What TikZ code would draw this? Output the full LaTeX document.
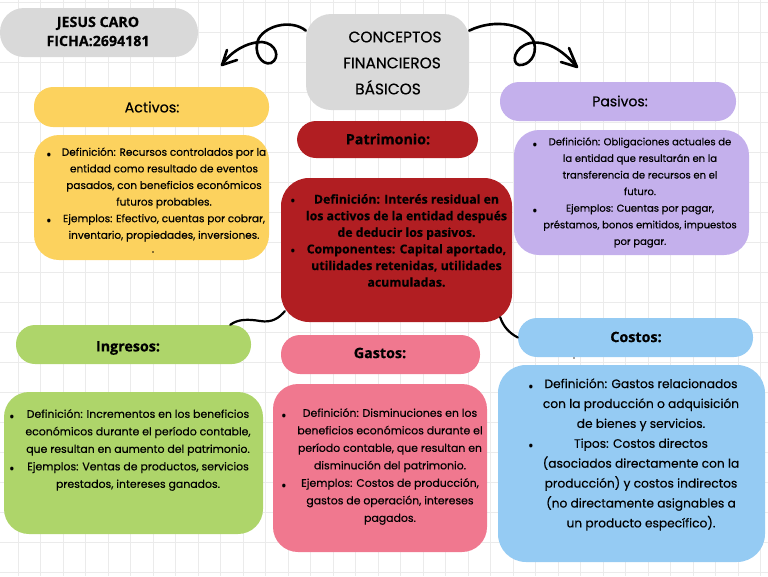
\documentclass[tikz,border=0pt]{standalone}
\usepackage{fontspec}
\setmainfont{Poppins}[FakeBold=0.4]
\newfontfamily\heavyface{Open Sans Bold}[FakeBold=0.5]
\newfontfamily\dotface{Noto Sans}
\usetikzlibrary{calc}
\definecolor{cgray}{HTML}{D9D9D9}
\definecolor{cyellow}{HTML}{FCD25E}
\definecolor{cpurple}{HTML}{C4B0EC}
\definecolor{cred}{HTML}{B11E22}
\definecolor{cgreen}{HTML}{AED56A}
\definecolor{cpink}{HTML}{F0788F}
\definecolor{cblue}{HTML}{95CBF3}
\tikzset{
	headstyle/.style={rectangle,rounded corners=19pt,inner sep=0pt},
	boxstyle/.style={rectangle,rounded corners=25pt,inner sep=0pt},
	bodystyle/.style={inner sep=0pt,align=center},
	boldstyle/.style={inner sep=0pt,align=center,font=\heavyface\fontsize{#1}{16.6}\selectfont},
	bulletstyle/.style={inner sep=0pt,yshift=-4pt,font=\dotface\fontsize{15}{15}\selectfont},
	gridstyle/.style={draw=black!8,line width=0.5pt},
	linkstyle/.style={draw=black,line width=2.6pt,line cap=round,line join=round}
}
\begin{document}
\begin{tikzpicture}[x=1pt,y=-1pt]
		\useasboundingbox (0,0) rectangle (768,576);
		\draw[gridstyle,shift={(18,2)}] (-18,-2) grid[xstep=22.5pt,ystep=30pt] (750,574);
		% boxes
		\node[boxstyle,fill=cgray,rounded corners=24pt,minimum width=198pt,minimum height=49pt] (namebox) at (99,32.5) {};
		\node[boxstyle,fill=cgray,minimum width=163pt,minimum height=96pt] (titlebox) at (387.5,62) {};
		\node[headstyle,fill=cyellow,minimum width=235pt,minimum height=40pt] (activoshead) at (151.5,107) {};
		\node[boxstyle,fill=cyellow,minimum width=235pt,minimum height=125pt] (activosbox) at (151.5,197.5) {};
		\node[headstyle,fill=cpurple,minimum width=236pt,minimum height=39pt] (pasivoshead) at (618,101.5) {};
		\node[boxstyle,fill=cpurple,minimum width=235pt,minimum height=125pt] (pasivosbox) at (631.5,192.5) {};
		\node[headstyle,fill=cred,minimum width=181pt,minimum height=37pt] (patrimoniohead) at (387.5,139.5) {};
		\node[headstyle,fill=cgreen,minimum width=235pt,minimum height=39pt] (ingresoshead) at (133.5,344.5) {};
		\node[boxstyle,fill=cgreen,minimum width=259pt,minimum height=142pt] (ingresosbox) at (133.5,463) {};
		\node[headstyle,fill=cpink,minimum width=199pt,minimum height=39pt] (gastoshead) at (380.5,354.5) {};
		\node[boxstyle,fill=cpink,minimum width=214pt,minimum height=168pt] (gastosbox) at (380,468) {};
		\node[boxstyle,rounded corners=28pt,fill=cred,minimum width=231pt,minimum height=144pt] (patrimoniobox) at (396.5,250) {};
		\node[headstyle,fill=cblue,minimum width=235pt,minimum height=39pt] (costoshead) at (635.5,337.5) {};
		\node[boxstyle,rounded corners=28pt,fill=cblue,minimum width=267pt,minimum height=197pt] (costosbox) at (631.5,463.5) {};
		% links
		\coordinate (leftend) at (222,65);
		\coordinate (rightend) at (577,67);
		\draw[linkstyle] (titlebox.159) .. controls (293,20) and (268,24) .. (259,38) .. controls (252,52) and (262,66) .. (271,63) .. controls (281,58) and (276,43) .. (262,42) .. controls (247,42) and (230,52) .. (leftend);
		\draw[linkstyle] (227,50) -- (leftend) -- (237,60);
		\draw[linkstyle] (titlebox.21) .. controls (495,18) and (527,24) .. (534,42) .. controls (538,56) and (528,66) .. (519,65) .. controls (511,63) and (514,47) .. (530,43) .. controls (550,40) and (566,54) .. (rightend);
		\draw[linkstyle] (569,48) -- (rightend) -- (561,62);
		\draw[linkstyle,line width=2.2pt] ($(patrimoniobox.south west)+(4,-11)$) .. controls (279,318) and (272,323) .. (260,321) .. controls (248,319) and (238,319) .. ($(ingresoshead.north east)+(-21,0)$);
		\draw[linkstyle,line width=2.2pt] ($(patrimoniobox.south east)+(-12,-5)$) .. controls (503,326) and (509,333) .. (costoshead.west);
		% texts
		\node[boldstyle=14.2,font=\heavyface\fontsize{14.2}{19}\selectfont] (nametext) at (98,31.5) {JESUS CARO\\FICHA:2694181};
		\node[bodystyle,font=\fontsize{15.4}{26}\selectfont] (titletext) at (392,63) {\hspace*{6pt}CONCEPTOS\\FINANCIEROS\\\hspace*{-8pt}BÁSICOS};
		\node[bodystyle,font=\fontsize{14.3}{15}\selectfont] (activostitle) at (152,107) {Activos:};
		\node[bodystyle,font=\fontsize{14}{15}\selectfont] (pasivostitle) at (620,101) {Pasivos:};
		\node[boldstyle=14.3] (patrimoniotitle) at (388,139) {Patrimonio:};
		\node[boldstyle=14.3] (ingresostitle) at (128,348) {Ingresos:};
		\node[boldstyle=14.3] (gastostitle) at (380,353) {Gastos:};
		\node[boldstyle=14.3] (costostitle) at (636,337) {Costos:};
		\node[bodystyle,font=\fontsize{10.5}{16.6}\selectfont] (activostext) at (164,194.5) {Definición: Recursos controlados por la\\entidad como resultado de eventos\\pasados, con beneficios económicos\\futuros probables.\\Ejemplos: Efectivo, cuentas por cobrar,\\inventario, propiedades, inversiones.};
		\node[bodystyle,font=\fontsize{10.5}{16.6}\selectfont] (activosdot) at (153,252) {.};
		\node[bodystyle,font=\fontsize{10}{16.6}\selectfont] (pasivostext) at (640,192.5) {Definición: Obligaciones actuales de\\la entidad que resultarán en la\\transferencia de recursos en el\\futuro.\\Ejemplos: Cuentas por pagar,\\préstamos, bonos emitidos, impuestos\\por pagar.};
		\node[boldstyle=12.3] (patrimoniotext) at (406.5,240.5) {Definición: Interés residual en\\los activos de la entidad después\\de deducir los pasivos.\\Componentes: Capital aportado,\\utilidades retenidas, utilidades\\acumuladas.};
		\node[bodystyle,font=\fontsize{10.9}{17.5}\selectfont] (ingresostext) at (138,450) {Definición: Incrementos en los beneficios\\económicos durante el período contable,\\que resultan en aumento del patrimonio.\\Ejemplos: Ventas de productos, servicios\\prestados, intereses ganados.};
		\node[bodystyle,font=\fontsize{10.9}{17.5}\selectfont] (gastostext) at (390,466.5) {Definición: Disminuciones en los\\beneficios económicos durante el\\período contable, que resultan en\\disminución del patrimonio.\\Ejemplos: Costos de producción,\\gastos de operación, intereses\\pagados.};
		\node[bodystyle,font=\fontsize{12.2}{19.9}\selectfont] (costostext) at (641,454.5) {Definición: Gastos relacionados\\con la producción o adquisición\\de bienes y servicios.\\Tipos: Costos directos\\(asociados directamente con la\\producción) y costos indirectos\\(no directamente asignables a\\un producto específico).};
		\node[bodystyle,font=\fontsize{9}{10}\selectfont] (costosdot) at (574,358) {.};
		% bullets
		\node[bulletstyle] (activosa) at (49,153) {•};
		\node[bulletstyle] (activosb) at (49,219) {•};
		\node[bulletstyle] (pasivosa) at (535,143) {•};
		\node[bulletstyle] (pasivosb) at (535,209) {•};
		\node[bulletstyle] (patrimonioa) at (293,199) {•};
		\node[bulletstyle] (patrimoniob) at (293,249) {•};
		\node[bulletstyle] (ingresosa) at (12,415) {•};
		\node[bulletstyle] (ingresosb) at (12,467) {•};
		\node[bulletstyle] (gastosa) at (284,414) {•};
		\node[bulletstyle] (gastosb) at (284,484) {•};
		\node[bulletstyle] (costosa) at (531,385) {•};
		\node[bulletstyle] (costosb) at (531,444) {•};
		\end{tikzpicture}
\end{document}
